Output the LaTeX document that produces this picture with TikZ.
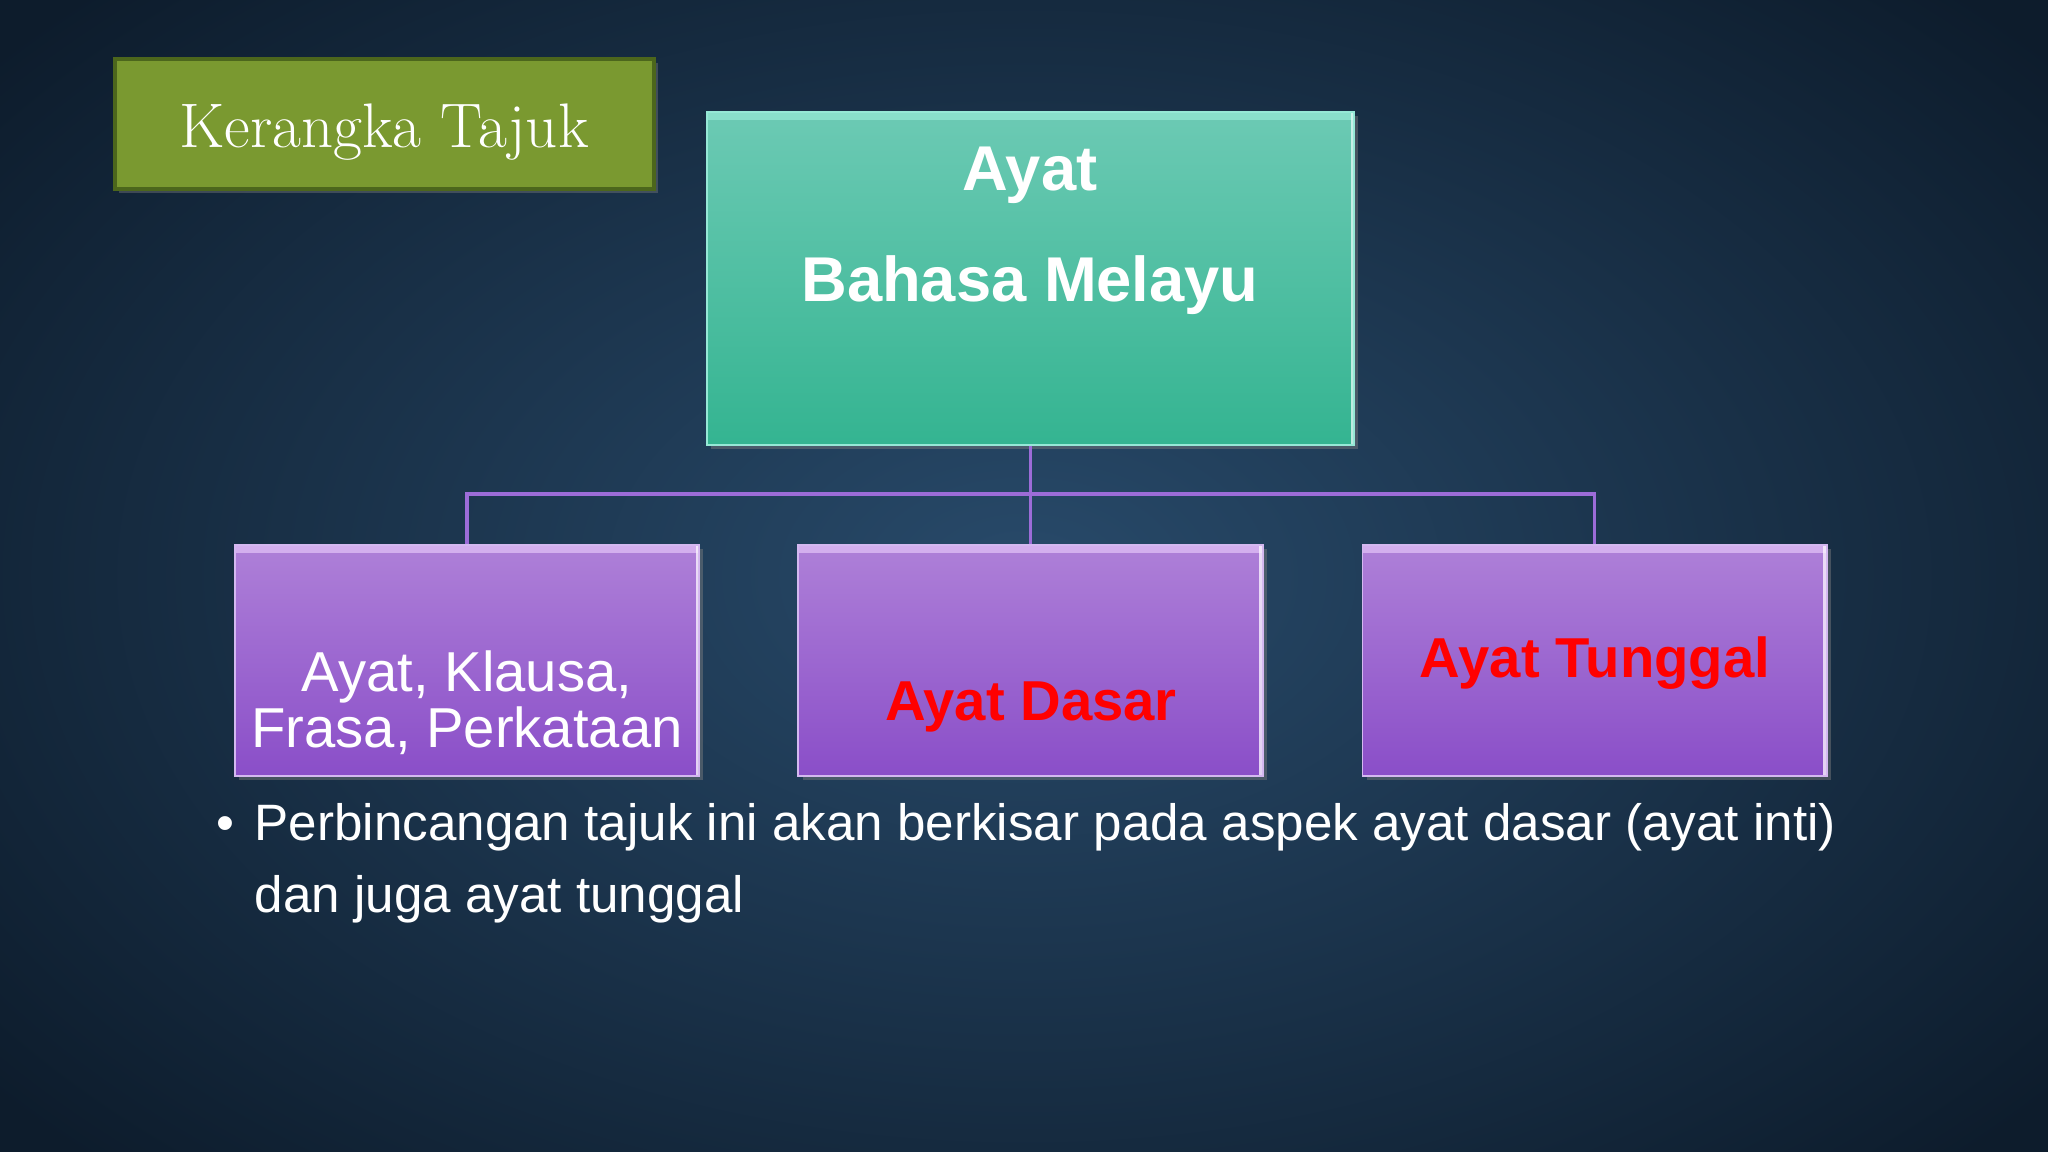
\documentclass[tikz,border=0pt]{standalone}
\usepackage{fontspec}
\newfontfamily\arialfont{Liberation Sans}
\usepackage{xcolor}
\usepackage{tikz}
\usetikzlibrary{positioning}
\usetikzlibrary{shadows}

\definecolor{bginner}{RGB}{40,74,106}
\definecolor{bgouter}{RGB}{13,28,44}
\definecolor{olivefill}{RGB}{122,153,48}
\definecolor{olivedark}{RGB}{76,102,28}
\definecolor{tealtop}{RGB}{108,202,180}
\definecolor{tealmid}{RGB}{63,197,160}
\definecolor{tealbot}{RGB}{52,180,145}
\definecolor{tealedge}{RGB}{150,232,214}
\definecolor{purptop}{RGB}{174,128,216}
\definecolor{purpbot}{RGB}{138,78,200}
\definecolor{purpedge}{RGB}{212,184,240}
\definecolor{purpglow}{RGB}{228,196,248}
\definecolor{linkline}{RGB}{156,108,216}

\tikzset{
  titlebox/.style={rectangle, fill=olivefill, draw=olivedark, line width=1.2pt,
    minimum width=5.39cm, minimum height=1.30cm, inner sep=0pt,
    drop shadow={opacity=0.4, shadow xshift=1.2pt, shadow yshift=-1.2pt}},
  topbox/.style={rectangle, top color=tealtop, middle color=tealmid, bottom color=tealbot,
    draw=tealedge, line width=0.5pt, minimum width=6.47cm, minimum height=3.33cm, inner sep=0pt,
    drop shadow={opacity=0.45, shadow xshift=1.2pt, shadow yshift=-1.2pt},
    path picture={
      \fill[tealedge, opacity=0.7] (path picture bounding box.north west) rectangle ([yshift=-2.2pt]path picture bounding box.north east);
      \fill[white!70!tealedge, opacity=0.8] ([xshift=-1pt]path picture bounding box.north east) rectangle (path picture bounding box.south east);
    }},
  leafbox/.style={rectangle, top color=purptop, bottom color=purpbot,
    draw=purpedge, line width=0.5pt, minimum width=4.64cm, minimum height=2.31cm, inner sep=0pt,
    drop shadow={opacity=0.45, shadow xshift=1.2pt, shadow yshift=-1.2pt},
    path picture={
      \fill[purpglow, opacity=0.7] (path picture bounding box.north west) rectangle ([yshift=-2.2pt]path picture bounding box.north east);
      \fill[white!80!purpglow, opacity=0.8] ([xshift=-1pt]path picture bounding box.north east) rectangle (path picture bounding box.south east);
    }},
  link/.style={draw=linkline, line width=1.1pt},
  titletext/.style={anchor=base, inner sep=0pt, text=white, font=\fontsize{17.9}{20}\selectfont},
  roottext/.style={anchor=base, inner sep=0pt, text=white, font=\arialfont\bfseries\fontsize{18}{21}\selectfont},
  leaftext/.style={anchor=base, inner sep=0pt, text=white, font=\arialfont\fontsize{16}{19}\selectfont},
  keytext/.style={anchor=base, inner sep=0pt, text=red, font=\arialfont\bfseries\fontsize{16}{19}\selectfont},
  bodytext/.style={anchor=base west, inner sep=0pt, text=white, font=\arialfont\fontsize{14.55}{17}\selectfont},
}

\begin{document}
\begin{tikzpicture}[x=0.01cm, y=-0.01cm]
\useasboundingbox (0,0) rectangle (2048,1152);
\fill[inner color=bginner, outer color=bgouter] (-300,-250) rectangle (2348,1402);

\node (kerangka) at (384.5,124) [titlebox] {};
\node (kerangkatext) at (384,148) [titletext] {Kerangka Tajuk};

\node (ayat) at (1030.5,278.5) [topbox] {};
\node (ayatline1) at (1030,191) [roottext] {Ayat};
\node (ayatline2) at (1030,302) [roottext] {Bahasa Melayu};

\node (unsur) at (467,660.5) [leafbox] {};
\node (dasar) at (1030.5,660.5) [leafbox] {};
\node (tunggal) at (1594.5,660.5) [leafbox] {};

\draw[link] (ayat.south) -- (dasar.north);
\draw[link] (unsur.north) -- ++(0,-50) -| (tunggal.north);

\node (unsurline1) at (467,691) [leaftext] {Ayat, Klausa,};
\node (unsurline2) at (467,747) [leaftext] {Frasa, Perkataan};
\node (dasartext) at (1031,720) [keytext] {Ayat Dasar};
\node (tunggaltext) at (1595,677) [keytext] {Ayat Tunggal};

\node (bullet) at (225,840) [anchor=base, inner sep=0pt, text=white, font=\arialfont\fontsize{14.55}{17}\selectfont] {•};
\node (bodyline1) at (254,840) [bodytext] {Perbincangan tajuk ini akan berkisar pada aspek ayat dasar (ayat inti)};
\node (bodyline2) at (254,912) [bodytext] {dan juga ayat tunggal};
\end{tikzpicture}
\end{document}
